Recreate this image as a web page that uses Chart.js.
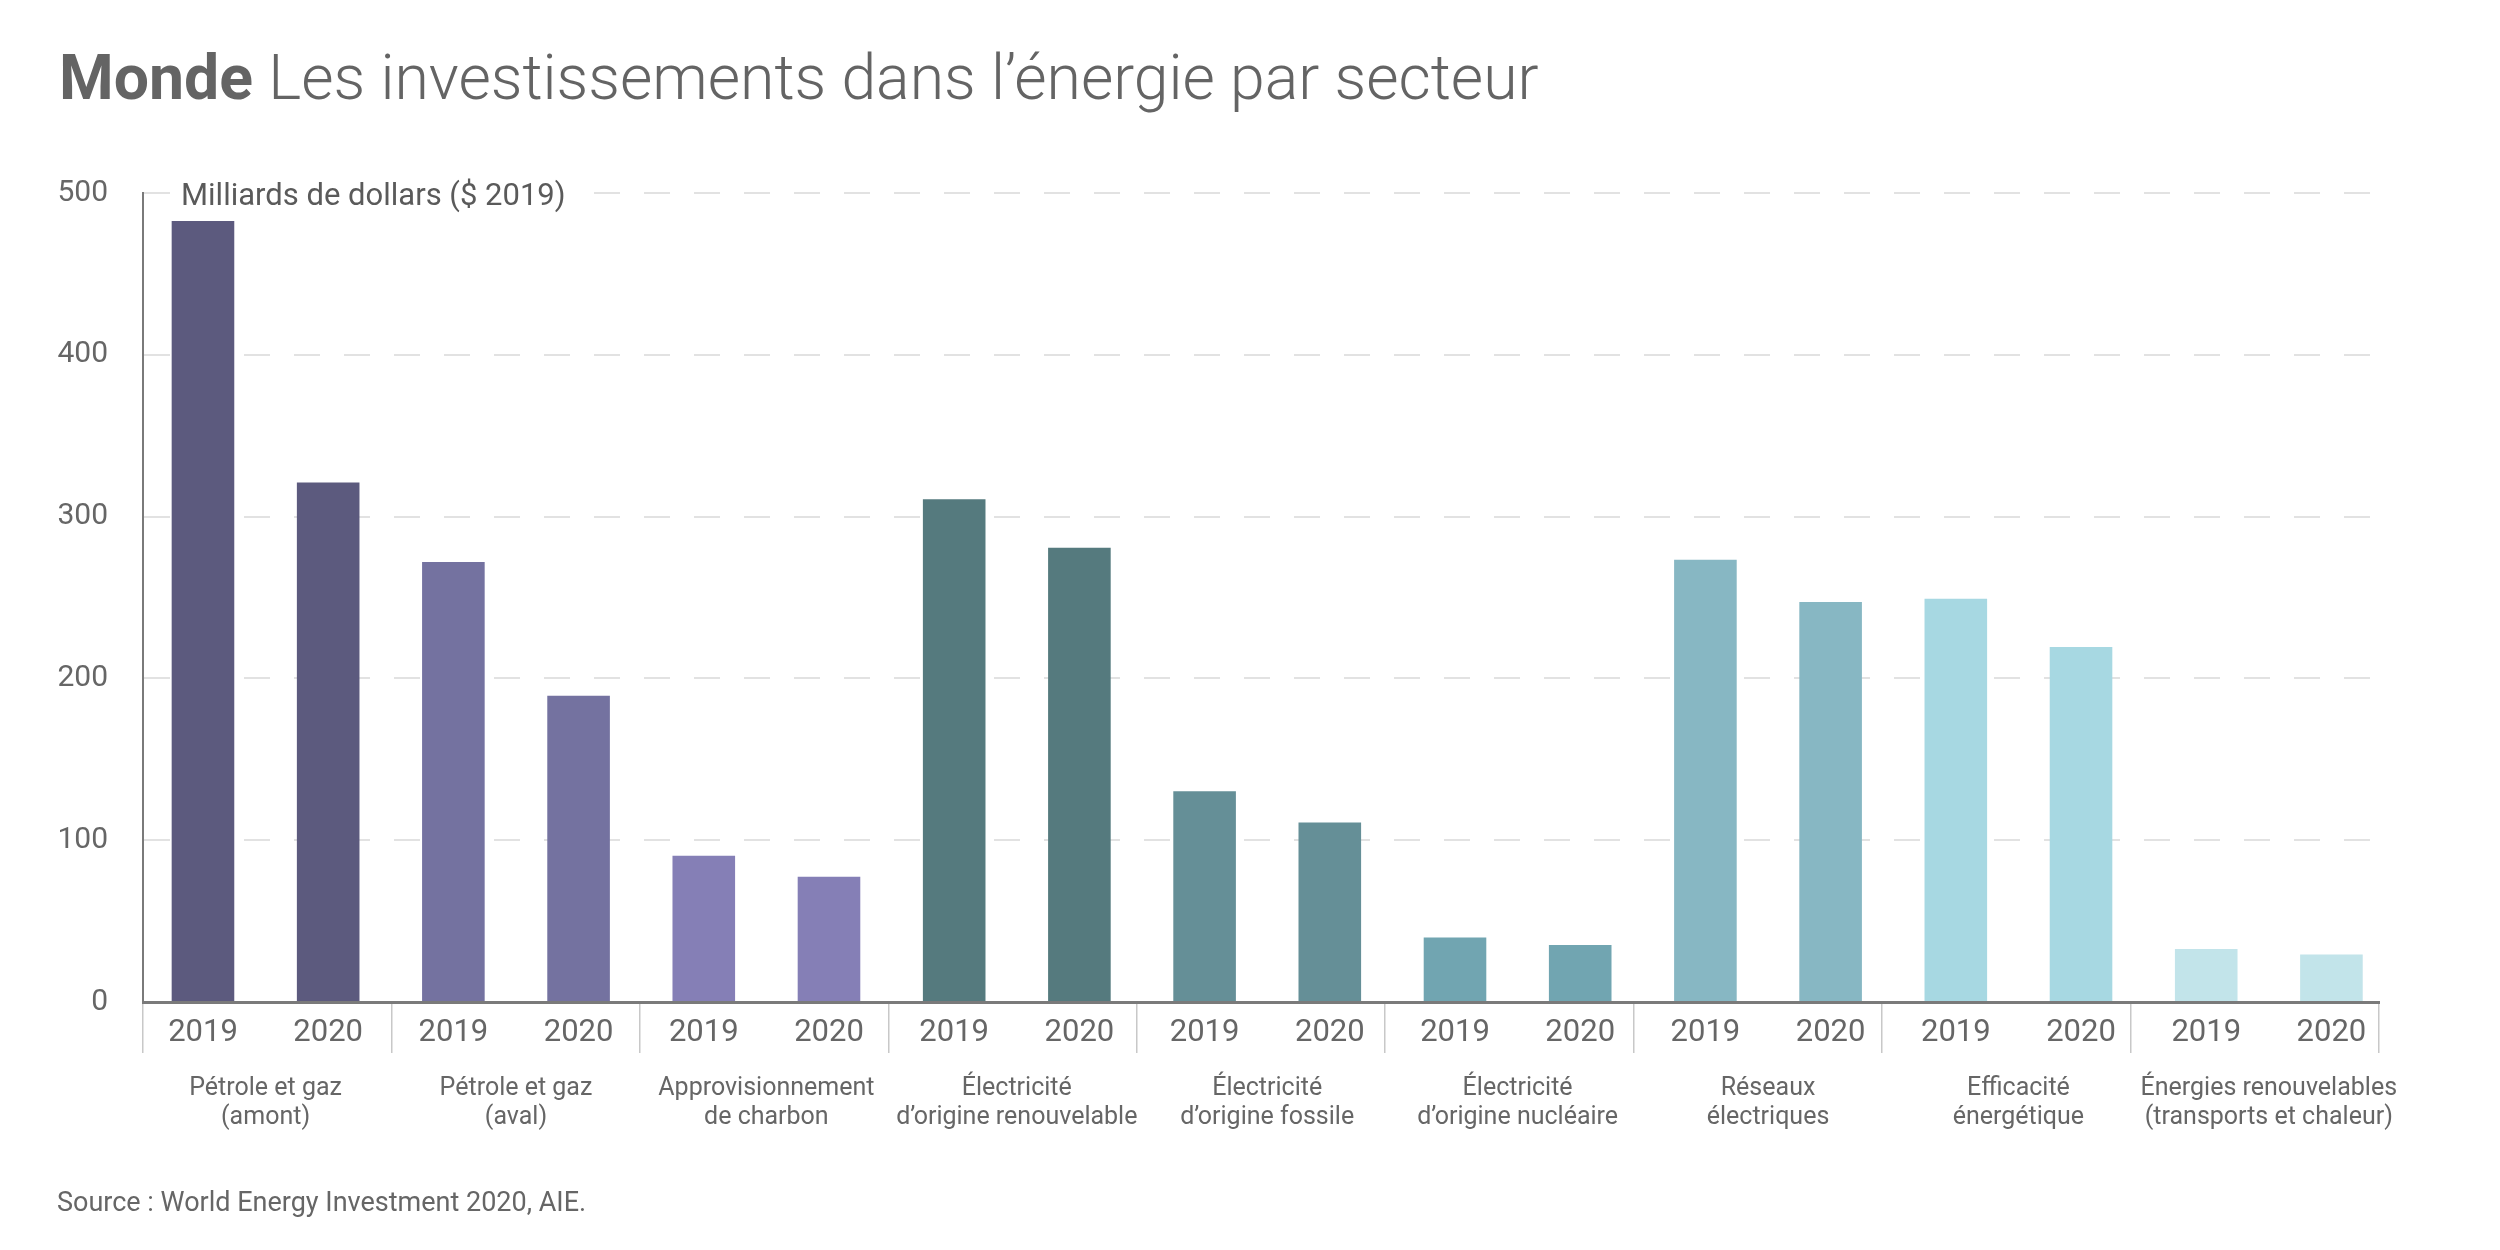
<!DOCTYPE html>
<html>
<head>
<meta charset="utf-8">
<script src="https://cdn.jsdelivr.net/npm/chart.js@4"></script>
<style>
  html, body { margin: 0; padding: 0; background: #fff; }
  #wrap { position: relative; width: 2500px; height: 1250px; overflow: hidden; font-family: Roboto, sans-serif; }
  #chartBox { position: absolute; left: 0; top: 0; width: 2500px; height: 1250px; }
  #title { position: absolute; left: 59px; top: 47px; font-size: 62.5px; line-height: 1; color: #646464; font-weight: 300; white-space: nowrap; }
  #title b { font-weight: 700; }
  #unit { position: absolute; left: 170px; top: 179px; padding: 0 20px 0 11px; background: #fff; font-size: 31px; line-height: 1; color: #5a5a5a; white-space: nowrap; }
  #source { position: absolute; left: 57px; top: 1189px; font-size: 27px; line-height: 1; color: #666; white-space: nowrap; }
</style>
</head>
<body>
<div id="wrap">
  <div id="chartBox"><canvas id="c"></canvas></div>
  <div id="title"><b>Monde</b> Les investissements dans l’énergie par secteur</div>
  <div id="unit">Milliards de dollars ($ 2019)</div>
  <div id="source">Source : World Energy Investment 2020, AIE.</div>
</div>
<script>
// ---- data ----
const groupLabels = [
  ["Pétrole et gaz", "(amont)"],
  ["Pétrole et gaz", "(aval)"],
  ["Approvisionnement", "de charbon"],
  ["Électricité", "d’origine renouvelable"],
  ["Électricité", "d’origine fossile"],
  ["Électricité", "d’origine nucléaire"],
  ["Réseaux", "électriques"],
  ["Efficacité", "énergétique"],
  ["Énergies renouvelables", "(transports et chaleur)"]
];
const years = ["2019", "2020"];
const values2019 = [482.7, 272.0, 90.4, 310.7, 130.2, 39.9, 273.3, 249.2, 32.7];
const values2020 = [321.0, 189.3, 77.4, 280.7, 110.9, 35.2, 247.2, 219.4, 29.3];
const yTicks = [0, 100, 200, 300, 400, 500];

// ---- styles ----
const groupColors = ["#5c5a7e", "#7472a0", "#857fb6", "#557a7e", "#658f97", "#71a5b1", "#87b7c3", "#a7d8e2", "#c2e4ea"];

// build the 18-slot table (2 years per sector)
const slotLabels = [], slotPoints = [], slotColors = [];
groupLabels.forEach((g, i) => {
  [values2019, values2020].forEach((vals, j) => {
    const slot = slotLabels.length;
    slotLabels.push(years[j]);
    slotPoints.push({ x: slot, y: vals[i] });
    slotColors.push(groupColors[i]);
  });
});

// slot-axis window (layout): bar pitch slightly wider than the separator grid, as in the original
const SLOT_MIN = -0.479, SLOT_MAX = 17.38;
const CHART_BOTTOM = 1002, YEAR_H = 51, SEP_H = 1, GROUP_H = 96;

const fixWindow = (s, ticks) => { s.ticks = ticks; s.min = SLOT_MIN; s.max = SLOT_MAX; };

new Chart(document.getElementById('c'), {
  type: 'bar',
  data: {
    datasets: [{
      data: slotPoints,
      backgroundColor: slotColors,
      borderWidth: 0,
      barPercentage: 0.5,
      categoryPercentage: 1.0,
      xAxisID: 'x',
      yAxisID: 'y'
    }]
  },
  options: {
    responsive: true,
    maintainAspectRatio: false,
    animation: false,
    devicePixelRatio: 1,
    layout: { padding: { left: 0, right: 121, top: 193, bottom: 1250 - CHART_BOTTOM - YEAR_H - SEP_H - GROUP_H } },
    plugins: { legend: { display: false }, tooltip: { enabled: false }, title: { display: false } },
    scales: {
      x: {
        type: 'linear',
        position: 'bottom',
        weight: 0,
        bounds: 'data',
        offset: false,
        min: SLOT_MIN, max: SLOT_MAX,
        afterBuildTicks: (s) => fixWindow(s, slotLabels.map((_, i) => ({ value: i }))),
        grid: { display: false, drawTicks: false },
        border: { display: true, color: '#7a7a7a', width: 3 },
        ticks: {
          color: '#666', font: { family: 'Roboto', size: 31 }, padding: 13, maxRotation: 0, autoSkip: false,
          callback: (v, idx) => slotLabels[idx]
        },
        afterFit: (s) => { s.height = YEAR_H; }
      },
      xSep: {
        type: 'category',
        position: 'bottom',
        weight: 1,
        offset: true,
        labels: groupLabels.map((g, i) => String(i)),
        grid: {
          display: true, drawOnChartArea: false, drawTicks: true, tickLength: -YEAR_H, offset: true,
          lineWidth: 1.5, color: '#c8c8c8'
        },
        border: { display: false },
        ticks: { display: false },
        afterFit: (s) => { s.height = SEP_H; }
      },
      x2: {
        type: 'linear',
        position: 'bottom',
        weight: 2,
        bounds: 'data',
        offset: false,
        min: SLOT_MIN, max: SLOT_MAX,
        afterBuildTicks: (s) => fixWindow(s, groupLabels.map((_, i) => ({ value: 2 * i + 0.5 }))),
        grid: { display: false, drawTicks: false },
        border: { display: false },
        ticks: {
          color: '#666', font: { family: 'Roboto', size: 25, lineHeight: 1.16 }, padding: 20, maxRotation: 0, autoSkip: false,
          callback: (v, idx) => groupLabels[idx]
        },
        afterFit: (s) => { s.height = GROUP_H; }
      },
      y: {
        min: 0, max: 500,
        afterBuildTicks: (s) => { s.ticks = yTicks.map(v => ({ value: v })); },
        grid: { color: '#e2e2e2', lineWidth: 2, drawTicks: false },
        border: { display: true, color: '#7a7a7a', width: 2, dash: [26, 24] },
        ticks: { color: '#666', font: { family: 'Roboto', size: 30 }, padding: 35 },
        afterFit: (s) => { s.width = 143; }
      }
    }
  }
});
</script>
</body>
</html>
